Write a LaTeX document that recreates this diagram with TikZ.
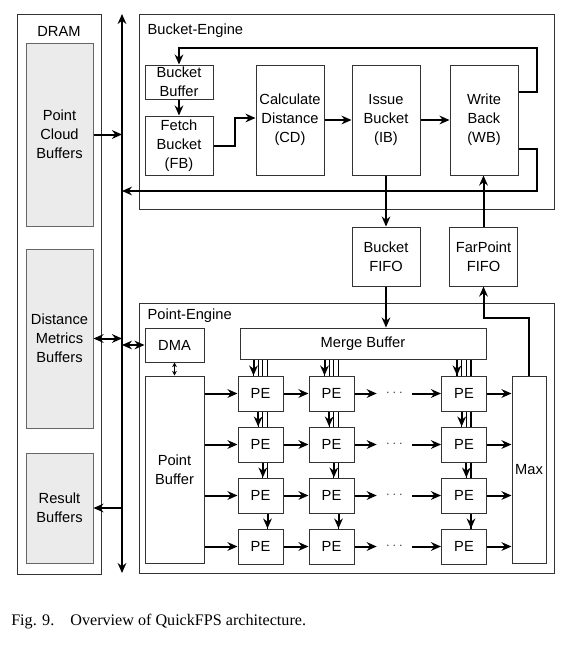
\documentclass[tikz,border=0pt]{standalone}
\usepackage{fontspec}
\setmainfont{Liberation Sans}
\newfontfamily\capfont{Liberation Serif}
\usetikzlibrary{positioning, calc, backgrounds, arrows.meta}

\tikzset{
    frame/.style={draw=black!80, line width=0.75pt, inner sep=0pt},
    blk/.style={draw=black!80, line width=0.75pt, fill=white, align=center, inner sep=1pt},
    buf/.style={blk, draw=black!60, fill=black!8},
    pe/.style={blk, minimum width=33.75pt, minimum height=26.25pt},
    wire/.style={line width=1.5pt},
    lane/.style={line width=0.8pt},
}

\begin{document}
\begin{tikzpicture}[x=0.75pt, y=-0.75pt, font=\fontsize{11}{14.25}\selectfont,
    >={Stealth[length=7.5pt,width=6.5pt]}]
    \useasboundingbox (0,0) rectangle (573,650);

    % DRAM
    \node[frame, minimum width=63pt, minimum height=420pt] (dram) at (59,294) {};
    \node (dramlbl) at (59,31) {DRAM};
    \node[buf, minimum width=50.25pt, minimum height=137.25pt] (pcb) at (59.5,134.5) {Point\\Cloud\\Buffers};
    \node[buf, minimum width=50.25pt, minimum height=134.25pt] (dmb) at (59.5,338.5) {Distance\\Metrics\\Buffers};
    \node[buf, minimum width=50.25pt, minimum height=82.5pt] (rb) at (59.5,508) {Result\\Buffers};

    % bus
    \coordinate (bustop) at (122,14);
    \coordinate (busbot) at (122,573);
    \draw[wire, <->] (bustop) -- (busbot);

    % Bucket-Engine
    \node[frame, minimum width=311.25pt, minimum height=146.25pt] (beng) at (346.5,111.5) {};
    \node[anchor=west] (benglbl) at (143,31) {Bucket-Engine};
    \node[blk, minimum width=51pt, minimum height=25.5pt] (bb) at (179,82) {Bucket\\Buffer};
    \node[blk, minimum width=51pt, minimum height=44.25pt] (fb) at (179,145.5) {Fetch\\Bucket\\(FB)};
    \node[blk, minimum width=51pt, minimum height=82.5pt] (cd) at (290,120) {Calculate\\Distance\\(CD)};
    \node[blk, minimum width=51pt, minimum height=82.5pt] (ib) at (386,120) {Issue\\Bucket\\(IB)};
    \node[blk, minimum width=51pt, minimum height=82.5pt] (wb) at (484,120) {Write\\Back\\(WB)};

    \draw[wire, ->] (bb) -- (fb);
    \draw[wire, ->] (fb.east) -| ($(fb.east)!0.5!(cd.west)$) |- ([yshift=1.5pt]cd.west);
    \draw[wire, ->] (cd) -- (ib);
    \draw[wire, ->] (ib) -- (wb);
    \draw[wire, ->] ([yshift=-20.25pt]wb.north east) -| (537,48) -| (bb.north);
    \draw[wire, ->] ([yshift=20.25pt]wb.south east) -| (537,191) -- (bustop |- 537,191);

    % FIFOs
    \node[blk, minimum width=51pt, minimum height=44.25pt] (bfifo) at (386,256.5) {Bucket\\FIFO};
    \node[blk, minimum width=51pt, minimum height=44.25pt] (ffifo) at (483.5,256.5) {FarPoint\\FIFO};
    \draw[wire, ->] (ib) -- (bfifo);
    \draw[wire, ->] (ffifo.north) -- (ffifo.north |- wb.south);

    % Point-Engine
    \node[frame, minimum width=311.25pt, minimum height=202.5pt] (peng) at (346.5,438) {};
    \node[anchor=west] (penglbl) at (143,316) {Point-Engine};
    \node[blk, minimum width=44.25pt, minimum height=25.5pt] (dma) at (174.5,345) {DMA};
    \node[blk, minimum width=184.5pt, minimum height=23.25pt] (merge) at (363,343.5) {Merge Buffer};
    \node[blk, minimum width=44.25pt, minimum height=140.25pt] (pb) at (174.5,469.5) {Point\\Buffer};
    \node[blk, minimum width=25.5pt, minimum height=140.25pt] (max) at (529,469.5) {Max};

    \draw[wire, ->] (bfifo.south) -- (bfifo.south |- merge.north);
    \draw[wire, ->] (max.north) -- ++(0,-58) -| (ffifo.south);
    \draw[line width=0.8pt, <->, >={Stealth[length=3.5pt,width=3.5pt]}] (dma) -- (pb);

    % DRAM <-> bus <-> DMA
    \draw[wire, ->] (pcb.east) -- (pcb.east -| bustop);
    \draw[wire, <->] (dmb.east) -- (dmb.east -| bustop);
    \draw[wire, ->] (rb.east -| bustop) -- (rb.east);
    \draw[wire, <->] (dma.west -| bustop) -- (dma.west);

    % PE array
    \foreach \r/\y in {1/393.5, 2/444.5, 3/495.5, 4/546.5} {
        \foreach \c/\x in {1/260.5, 2/331.5, 3/464}
            \node[pe] (pe-\r-\c) at (\x,\y) {PE};
        \node[minimum width=26.25pt, inner sep=0pt, text=black!70] (dots-\r) at (394.5,\y) {$\cdots$};
        \draw[wire, ->] (pb.east |- pe-\r-1.west) -- (pe-\r-1.west);
        \draw[wire, ->] (pe-\r-1) -- (pe-\r-2);
        \draw[wire, ->] (pe-\r-2) -- (dots-\r);
        \draw[wire, ->] (dots-\r) -- (pe-\r-3);
        \draw[wire, ->] (pe-\r-3) -- (pe-\r-3 -| max.west);
    }

    % lanes from the Merge Buffer
    \begin{scope}[on background layer]
        \foreach \c in {1,2,3} {
            \foreach \k [evaluate=\k as \o using (\k-2.5)*3.5] in {1,...,4} {
                \draw[lane] ([xshift=\o pt]pe-\k-\c.north |- merge.south) -- ([xshift=\o pt]pe-\k-\c.north);
                \draw[wire, <-] ([xshift=\o pt]pe-\k-\c.north) -- ++(0,-16);
            }
        }
    \end{scope}

    % caption
    \node[anchor=base west, inner sep=0pt, font=\capfont\fontsize{12.1}{14}\selectfont] (cap) at (11,625)
        {Fig. 9.\quad Overview of QuickFPS architecture.};
\end{tikzpicture}
\end{document}
